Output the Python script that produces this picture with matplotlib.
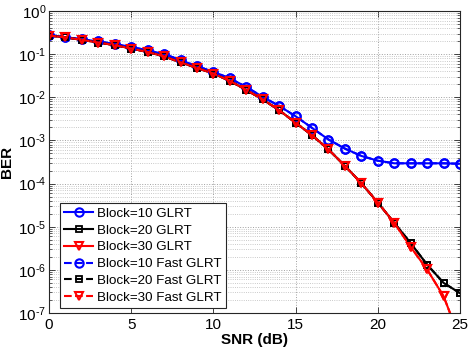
import numpy as np
import matplotlib
matplotlib.use("Agg")
import matplotlib.pyplot as plt
from matplotlib.ticker import LogLocator, NullFormatter, FixedLocator, FuncFormatter

plt.rcParams['font.family'] = ['Liberation Sans', 'DejaVu Sans']
plt.rcParams['mathtext.fontset'] = 'custom'
plt.rcParams['mathtext.rm'] = 'Liberation Sans'
plt.rcParams['mathtext.it'] = 'Liberation Sans'

snr = list(range(0, 26))
ber_block10 = [0.280, 0.247, 0.221, 0.197, 0.172, 0.147, 0.122, 0.101, 0.0724, 0.0525, 0.0389,
               0.0275, 0.0174, 0.0102, 0.0063, 0.00363, 0.00195, 0.00105, 0.000646, 0.000437,
               0.000339, 0.000295, 0.000295, 0.000295, 0.000295, 0.000288]
ber_block20 = [0.270, 0.245, 0.214, 0.186, 0.162, 0.135, 0.112, 0.089, 0.0646, 0.0479, 0.0355,
               0.0240, 0.0148, 0.00891, 0.00501, 0.00257, 0.00132, 0.000617, 0.000257, 0.000102,
               3.63e-5, 1.23e-5, 4.17e-6, 1.32e-6, 5.0e-7, 2.88e-7]
ber_block30 = [0.270, 0.245, 0.214, 0.186, 0.162, 0.135, 0.112, 0.089, 0.0646, 0.0479, 0.0355,
               0.0240, 0.0148, 0.00891, 0.00501, 0.00257, 0.00132, 0.000617, 0.000257, 0.000102,
               3.63e-5, 1.23e-5, 3.39e-6, 1.02e-6, 2.45e-7, 2.5e-8]
# Fast GLRT curves overlap the GLRT curves
ber_fast10 = ber_block10
ber_fast20 = ber_block20
ber_fast30 = ber_block30

labels = ['Block=10 GLRT', 'Block=20 GLRT', 'Block=30 GLRT',
          'Block=10 Fast GLRT', 'Block=20 Fast GLRT', 'Block=30 Fast GLRT']

fig = plt.figure(figsize=(4.74, 3.52), dpi=100)
ax = fig.add_axes([49/474, 1-313/352, 411/474, 302/352])

blue = '#0000ff'
lw = 1.5
ax.semilogy(snr, ber_block10, '-', color=blue, marker='o', mfc='none', mec=blue, mew=1.5, ms=6, lw=lw, label=labels[0])
ax.semilogy(snr, ber_block20, '-', color='k', marker='s', mfc='none', mec='k', mew=1.3, ms=5, lw=lw, label=labels[1])
ax.semilogy(snr, ber_block30, '-', color='r', marker='v', mfc='none', mec='r', mew=1.5, ms=6, lw=lw, label=labels[2])
ax.semilogy(snr, ber_fast10, '--', color=blue, marker='o', mfc='none', mec=blue, mew=1.5, ms=6, lw=lw, label=labels[3])
ax.semilogy(snr, ber_fast20, '--', color='k', marker='s', mfc='none', mec='k', mew=1.3, ms=5, lw=lw, label=labels[4])
ax.semilogy(snr, ber_fast30, '--', color='r', marker='v', mfc='none', mec='r', mew=1.5, ms=6, lw=lw, label=labels[5])

ax.set_xlim(0, 25)
ax.set_ylim(1e-7, 1)
ax.xaxis.set_major_locator(FixedLocator([0, 5, 10, 15, 20, 25]))
ax.yaxis.set_major_locator(LogLocator(base=10, numticks=20))
ax.yaxis.set_major_formatter(FuncFormatter(
    lambda v, p: r'$10^{\text{-}%d}$' % round(-np.log10(v)) if v < 1 else r'$10^{0}$'))
ax.yaxis.set_minor_locator(LogLocator(base=10, subs=np.arange(2, 10), numticks=20))
ax.yaxis.set_minor_formatter(NullFormatter())
ax.tick_params(which='both', direction='in', top=True, right=True, labelsize=11, colors='#262626')
ax.tick_params(which='major', length=4, width=0.6)
ax.tick_params(which='minor', length=2, width=0.5)
ax.tick_params(axis='y', which='major', pad=2)
for lab in ax.get_xticklabels() + ax.get_yticklabels():
    lab.set_color('black')
ax.xaxis.get_offset_text().set_visible(False)
ax.yaxis.get_offset_text().set_visible(False)
ax.grid(True, which='major', linestyle=':', color='#a0a0a0', linewidth=0.7)
ax.grid(True, which='minor', axis='y', linestyle=':', color='#b8b8b8', linewidth=0.6)
for s in ax.spines.values():
    s.set_color('#262626')
    s.set_linewidth(0.8)

ax.set_xlabel('SNR (dB)', fontsize=11, fontweight='bold', labelpad=1)
ax.set_ylabel('BER', fontsize=11, fontweight='bold')
ax.yaxis.set_label_coords((14 - 49) / 411, 0.5)

leg = ax.legend(loc='lower left', bbox_to_anchor=((60-49)/411, (313-308)/302), borderaxespad=0,
                fontsize=9.6, handlelength=2.2, labelspacing=0.34, handletextpad=0.3,
                borderpad=0.3, fancybox=False, framealpha=1, edgecolor='#262626')
leg.get_frame().set_linewidth(0.8)

fig.savefig('out.png', dpi=100)
